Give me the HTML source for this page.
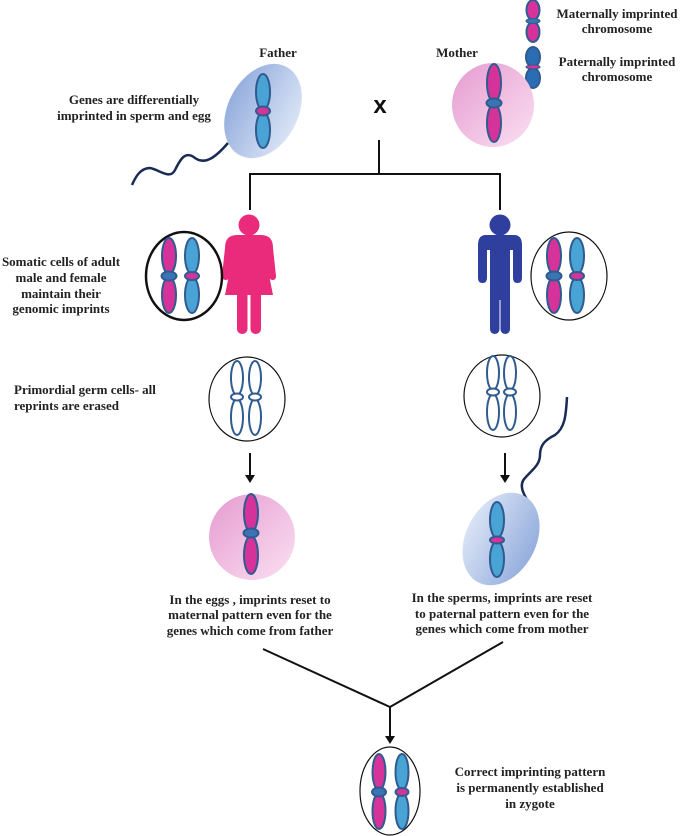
<!DOCTYPE html>
<html><head><meta charset="utf-8"><style>
html,body{margin:0;padding:0;background:#fff}
svg{display:block}
text{font-family:"Liberation Serif",serif;font-weight:bold;font-size:13px;fill:#222;text-anchor:middle}
</style></head><body>
<svg width="685" height="836" viewBox="0 0 685 836" xmlns="http://www.w3.org/2000/svg">
<defs>
<linearGradient id="pk" x1="0" y1="0" x2="1" y2="1"><stop offset="0" stop-color="#e59bd0"/><stop offset="1" stop-color="#fbe0f2"/></linearGradient>
<linearGradient id="bl" x1="0" y1="0" x2="1" y2="0"><stop offset="0" stop-color="#95aede"/><stop offset="1" stop-color="#d9e3f5"/></linearGradient>
<linearGradient id="bl2" x1="0" y1="0" x2="1" y2="0"><stop offset="0" stop-color="#d9e3f5"/><stop offset="1" stop-color="#95aede"/></linearGradient>
</defs>
<g stroke="#2f5b8f" stroke-width="2">
<ellipse cx="533" cy="10" rx="6.5" ry="10" fill="#d6339a"/><ellipse cx="533" cy="32" rx="6.5" ry="10" fill="#d6339a"/><ellipse cx="533" cy="21" rx="7" ry="2.5" fill="#3b74b5" stroke-width="1"/>
<ellipse cx="533" cy="57" rx="7" ry="10" fill="#2a6db5"/><ellipse cx="533" cy="78" rx="7" ry="10" fill="#2a6db5"/><ellipse cx="533" cy="67" rx="7" ry="2" fill="#d6339a" stroke-width="1"/>
</g>
<text x="617" y="18">Maternally imprinted</text><text x="617" y="33">chromosome</text>
<text x="617" y="66">Paternally imprinted</text><text x="617" y="81">chromosome</text>
<text x="278" y="57">Father</text><text x="457" y="57">Mother</text>
<text x="134" y="104">Genes are differentially</text><text x="134" y="120">imprinted in sperm and egg</text>
<text x="380" y="113" style="font-family:'Liberation Sans',sans-serif;font-size:24px;fill:#111">x</text>

<path d="M228,143 C215,158 205,165 195,158 C185,150 180,160 175,170 C170,180 160,170 150,168 C140,168 135,178 132,185" fill="none" stroke="#1a2c55" stroke-width="2.5"/>
<ellipse cx="263" cy="111" rx="35" ry="50" transform="rotate(28 263 111)" fill="url(#bl)"/>
<g stroke="#2f5b8f" stroke-width="2">
<ellipse cx="263" cy="92" rx="7" ry="18" fill="#4aa3d5"/><ellipse cx="263" cy="130" rx="7" ry="18" fill="#4aa3d5"/><ellipse cx="263" cy="111" rx="7" ry="4.5" fill="#d6339a"/>
</g>
<ellipse cx="493" cy="105" rx="41" ry="42" fill="url(#pk)"/>
<g stroke="#2f5b8f" stroke-width="2">
<ellipse cx="494" cy="83" rx="7" ry="19" fill="#d6339a"/><ellipse cx="494" cy="123" rx="7" ry="19" fill="#d6339a"/><ellipse cx="494" cy="103" rx="7.5" ry="4.5" fill="#3b74b5"/>
</g>
<g stroke="#111" stroke-width="2" fill="none">
<path d="M379,140 V174 M250,174 H501 M250,173 V210 M500,173 V210"/>
<path d="M250,453 V480 M505,453 V480 M263,649 L390,707 L503,642 M390,707 V740"/>
</g>
<g fill="#111">
<path d="M245,475 L250,483 L255,475 Z"/><path d="M500,475 L505,483 L510,475 Z"/><path d="M385,736 L390,744 L395,736 Z"/>
</g>
<g fill="#ea2a7b">
<circle cx="249" cy="225" r="10.5"/>
<path d="M237,235 Q225,235 225,248 L222,276 Q222,280 226,280 Q229,280 229,276 L234,250 L225,295 L273,295 L264,250 L269,276 Q269,280 273,280 Q276,280 276,276 L273,248 Q273,235 261,235 Z"/>
<rect x="237" y="290" width="10.5" height="44" rx="5"/><rect x="250.5" y="290" width="10.5" height="44" rx="5"/>
</g>
<g fill="#2f3f9e">
<circle cx="500" cy="225" r="10.5"/>
<path d="M486,235 Q478,235 478,245 L478,278 Q478,283 482.5,283 Q487,283 487,278 L487,250 L490,250 L490,300 L510,300 L510,250 L513,250 L513,278 Q513,283 517.5,283 Q522,283 522,278 L522,245 Q522,235 514,235 Z"/>
<rect x="490" y="290" width="9.5" height="44" rx="4.7"/><rect x="500.5" y="290" width="9.5" height="44" rx="4.7"/>
</g>
<ellipse cx="184" cy="276" rx="38" ry="44" fill="none" stroke="#111" stroke-width="2.5"/>
<ellipse cx="569" cy="276" rx="38" ry="44" fill="none" stroke="#111" stroke-width="1.2"/>
<g stroke="#2f5b8f" stroke-width="2">
<ellipse cx="169" cy="256" rx="7" ry="18" fill="#d6339a"/><ellipse cx="169" cy="295" rx="7" ry="18" fill="#d6339a"/><ellipse cx="169" cy="276" rx="7.5" ry="4.5" fill="#3b74b5"/>
<ellipse cx="192" cy="256" rx="7" ry="18" fill="#4aa3d5"/><ellipse cx="192" cy="295" rx="7" ry="18" fill="#4aa3d5"/><ellipse cx="192" cy="276" rx="7" ry="4" fill="#d6339a"/>
<ellipse cx="554" cy="256" rx="7" ry="18" fill="#d6339a"/><ellipse cx="554" cy="295" rx="7" ry="18" fill="#d6339a"/><ellipse cx="554" cy="276" rx="7.5" ry="4.5" fill="#3b74b5"/>
<ellipse cx="577" cy="256" rx="7" ry="18" fill="#4aa3d5"/><ellipse cx="577" cy="295" rx="7" ry="18" fill="#4aa3d5"/><ellipse cx="577" cy="276" rx="7" ry="4" fill="#d6339a"/>
</g>
<text x="61" y="266">Somatic cells of adult</text><text x="61" y="282">male and female</text><text x="61" y="298">maintain their</text><text x="61" y="313">genomic imprints</text>
<ellipse cx="247" cy="399" rx="38" ry="42" fill="none" stroke="#111" stroke-width="1.2"/>
<ellipse cx="502" cy="396" rx="38" ry="41" fill="none" stroke="#111" stroke-width="1.2"/>
<g stroke="#2f5b8f" stroke-width="2" fill="none">
<ellipse cx="237" cy="378" rx="6" ry="17"/><ellipse cx="237" cy="417" rx="6" ry="18"/><ellipse cx="237" cy="397" rx="6" ry="3.5" fill="#fff"/>
<ellipse cx="255" cy="378" rx="6" ry="17"/><ellipse cx="255" cy="417" rx="6" ry="18"/><ellipse cx="255" cy="397" rx="6" ry="3.5" fill="#fff"/>
<ellipse cx="493" cy="373" rx="6" ry="17"/><ellipse cx="493" cy="412" rx="6" ry="18"/><ellipse cx="493" cy="392" rx="6" ry="3.5" fill="#fff"/>
<ellipse cx="510" cy="373" rx="6" ry="17"/><ellipse cx="510" cy="412" rx="6" ry="18"/><ellipse cx="510" cy="392" rx="6" ry="3.5" fill="#fff"/>
</g>
<text x="14" y="394" style="text-anchor:start">Primordial  germ cells- all</text><text x="14" y="410" style="text-anchor:start">reprints are erased</text>
<circle cx="252" cy="537" r="43" fill="url(#pk)"/>
<g stroke="#2f5b8f" stroke-width="2">
<ellipse cx="251" cy="513" rx="7" ry="19" fill="#d6339a"/><ellipse cx="251" cy="555" rx="7" ry="19" fill="#d6339a"/><ellipse cx="251" cy="533" rx="7.5" ry="4.5" fill="#3b74b5"/>
</g>
<path d="M529,503 C524,495 518,485 525,478 C532,470 540,465 540,455 C540,445 545,440 555,435 C565,428 566,415 567,397" fill="none" stroke="#1a2c55" stroke-width="2.5"/>
<ellipse cx="501" cy="539" rx="35" ry="49" transform="rotate(28 501 539)" fill="url(#bl2)"/>
<g stroke="#2f5b8f" stroke-width="2">
<ellipse cx="497" cy="520" rx="7" ry="18" fill="#4aa3d5"/><ellipse cx="497" cy="559" rx="7" ry="18" fill="#4aa3d5"/><ellipse cx="497" cy="540" rx="7" ry="3.5" fill="#d6339a"/>
</g>
<text x="250" y="604">In the eggs , imprints reset to</text><text x="250" y="619">maternal pattern even for the</text><text x="250" y="635">genes which come from father</text>
<text x="502" y="602">In the sperms, imprints are reset</text><text x="502" y="618">to paternal pattern even for the</text><text x="502" y="633">genes which come from mother</text>
<ellipse cx="390" cy="791" rx="30" ry="44" fill="none" stroke="#111" stroke-width="1.2"/>
<g stroke="#2f5b8f" stroke-width="2">
<ellipse cx="379" cy="772" rx="6.5" ry="18" fill="#d6339a"/><ellipse cx="379" cy="811" rx="6.5" ry="18" fill="#d6339a"/><ellipse cx="379" cy="792" rx="7" ry="4.5" fill="#3b74b5"/>
<ellipse cx="402" cy="772" rx="6.5" ry="18" fill="#4aa3d5"/><ellipse cx="402" cy="811" rx="6.5" ry="18" fill="#4aa3d5"/><ellipse cx="402" cy="792" rx="6.5" ry="4" fill="#d6339a"/>
</g>
<text x="530" y="776">Correct imprinting pattern</text><text x="530" y="792">is permanently established</text><text x="530" y="808">in  zygote</text>
</svg>
</body></html>
